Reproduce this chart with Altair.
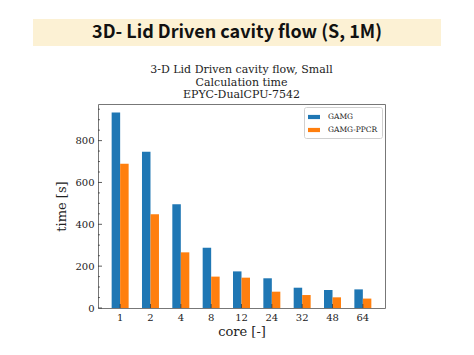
import altair as alt
import pandas as pd

cores = ["1", "2", "4", "8", "12", "24", "32", "48", "64"]
gamg = [934, 747, 496, 288, 175, 142, 97, 86, 89]
ppcr = [689, 448, 266, 150, 145, 78, 62, 51, 45]
series_names = ["GAMG", "GAMG-PPCR"]
series_colors = ["#1f77b4", "#ff7f0e"]
y_major = [0, 200, 400, 600, 800]
y_minor = [v for v in range(50, 951, 50) if v % 200 != 0]
banner_text = "3D- Lid Driven cavity flow (S, 1M)"
title_lines = ["3-D Lid Driven cavity flow, Small", "Calculation time", "EPYC-DualCPU-7542"]

rows = []
for c, a, b in zip(cores, gamg, ppcr):
    rows.append({"core": c, "series": series_names[0], "time": a})
    rows.append({"core": c, "series": series_names[1], "time": b})
df = pd.DataFrame(rows)

SERIF = "DejaVu Serif"
W, H = 287, 204

xscale = alt.Scale(domain=cores, paddingInner=0.44, paddingOuter=0.45)
yscale = alt.Scale(domain=[0, 975], nice=False)

bars = alt.Chart(df).mark_bar().encode(
    x=alt.X("core:N", scale=xscale, sort=cores,
            axis=alt.Axis(title="core [-]", labelAngle=0, ticks=False, domain=False,
                          labelFont=SERIF, labelFontSize=10, labelColor="#222",
                          labelPadding=4, titleFont=SERIF, titleFontSize=13,
                          titleFontWeight="normal", titleColor="#222", titlePadding=3)),
    xOffset=alt.XOffset("series:N", sort=series_names, scale=alt.Scale(paddingInner=0, paddingOuter=0)),
    y=alt.Y("time:Q", scale=yscale,
            axis=alt.Axis(title="time [s]", values=y_major, ticks=False, domain=False, grid=False,
                          labelFont=SERIF, labelFontSize=10, labelColor="#222", labelPadding=4,
                          titleFont=SERIF, titleFontSize=13, titleFontWeight="normal",
                          titleColor="#222", titlePadding=6)),
    color=alt.Color("series:N", sort=series_names,
                    scale=alt.Scale(domain=series_names, range=series_colors),
                    legend=alt.Legend(title=None, orient="top-right", offset=3, padding=4,
                                      fillColor="white", strokeColor="#d0d0d0", cornerRadius=2,
                                      labelFont=SERIF, labelFontSize=7.5, labelColor="#222",
                                      symbolType="M-1,-0.35H1V0.35H-1Z", symbolSize=144,
                                      symbolStrokeWidth=0, rowPadding=3, labelOffset=8)),
)

ymaj_df = pd.DataFrame({"v": y_major})
ymin_df = pd.DataFrame({"v": y_minor})
xt_df = pd.DataFrame({"core": cores})

ymaj = alt.Chart(ymaj_df).mark_rule(color="#333", strokeWidth=0.8).encode(
    y=alt.Y("v:Q", scale=yscale), x=alt.value(0), x2=alt.value(4))
ymin = alt.Chart(ymin_df).mark_rule(color="#333", strokeWidth=0.7).encode(
    y=alt.Y("v:Q", scale=yscale), x=alt.value(0), x2=alt.value(2))
xmaj = alt.Chart(xt_df).mark_rule(color="#333", strokeWidth=0.8).encode(
    x=alt.X("core:N", scale=xscale, sort=cores, bandPosition=0.5),
    y=alt.value(H), y2=alt.value(H - 4))

ban_df = pd.DataFrame({"t": [banner_text]})
ban_rect = alt.Chart(ban_df).mark_rect(color="#fcf1d4").encode(
    x=alt.value(-65), x2=alt.value(343), y=alt.value(-85), y2=alt.value(-58))
ban_text = alt.Chart(ban_df).mark_text(font="Noto Sans CJK JP", fontSize=18, fontWeight="bold",
                                       color="#111", align="center", baseline="middle").encode(
    text="t:N", x=alt.value(139), y=alt.value(-71))

title_layers = []
for line, yy in zip(title_lines, [-34, -21.5, -9]):
    tdf = pd.DataFrame({"t": [line]})
    title_layers.append(
        alt.Chart(tdf).mark_text(font=SERIF, fontSize=11, color="#222", align="center",
                                 baseline="middle").encode(
            text="t:N", x=alt.value(W / 2), y=alt.value(yy)))

chart = alt.layer(ban_rect, ban_text, *title_layers, bars, ymaj, ymin, xmaj).properties(
    width=W, height=H,
    autosize=alt.AutoSizeParams(type="none"),
    padding={"left": 90, "top": 96, "right": 70, "bottom": 35},
).configure_view(stroke="#777", strokeWidth=1)

chart.save("out.html", embed_options={"renderer": "svg", "actions": False})
